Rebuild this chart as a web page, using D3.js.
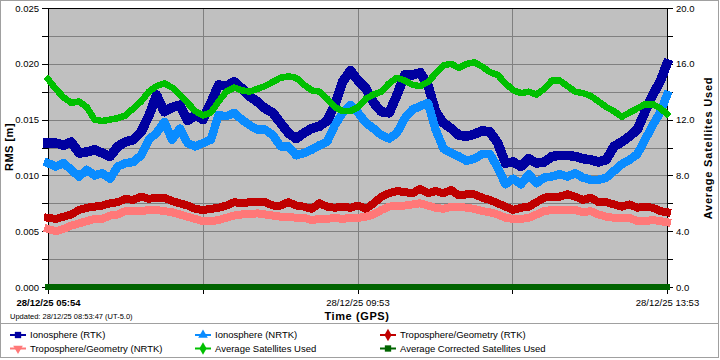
<!DOCTYPE html>
<html><head><meta charset="utf-8">
<script src="https://cdn.jsdelivr.net/npm/d3@7"></script>
<style>
body{margin:0;background:#fff}
svg{display:block}
text{font-family:"Liberation Sans",Arial,sans-serif;fill:#000}
</style>
</head><body>
<svg id="chart" width="720" height="360"></svg>
<script>
// ---- DATA (minutes after 28/12/25 05:54) ----
const times = [0,6,12,18,24,30,36,42,48,54,60,66,72,78,84,90,96,102,108,114,120,126,132,138,144,150,156,162,168,174,180,186,192,198,204,210,216,222,228,234,240,246,252,258,264,270,276,282,288,294,300,306,312,318,324,330,336,342,348,354,360,366,372,378,384,390,396,402,408,414,420,426,432,438,444,450,456,462,468,474,479];
const ionoRTK = [0.0129,0.0129,0.0127,0.0130,0.0120,0.0121,0.0123,0.0120,0.0117,0.0126,0.0130,0.0132,0.0139,0.0153,0.0172,0.0157,0.0161,0.0163,0.0149,0.0154,0.0150,0.0165,0.0181,0.0180,0.0184,0.0178,0.0171,0.0166,0.0160,0.0156,0.0147,0.0138,0.0133,0.0138,0.0142,0.0144,0.0149,0.0163,0.0184,0.0194,0.0185,0.0178,0.0165,0.0157,0.0156,0.0172,0.0190,0.0190,0.0192,0.0181,0.0157,0.0147,0.0142,0.0136,0.0135,0.0137,0.0140,0.0139,0.0129,0.0111,0.0112,0.0108,0.0115,0.0111,0.0112,0.0117,0.0118,0.0118,0.0117,0.0115,0.0114,0.0112,0.0114,0.0126,0.0130,0.0135,0.0141,0.0157,0.0172,0.0185,0.0200];
const ionoNRTK = [0.0111,0.0108,0.0111,0.0105,0.0099,0.0105,0.0100,0.0102,0.0097,0.0108,0.0111,0.0112,0.0118,0.0132,0.0138,0.0148,0.0132,0.0142,0.0129,0.0126,0.0129,0.0132,0.0154,0.0153,0.0156,0.0150,0.0145,0.0141,0.0141,0.0136,0.0126,0.0126,0.0118,0.0120,0.0123,0.0127,0.0130,0.0145,0.0156,0.0163,0.0156,0.0147,0.0142,0.0136,0.0133,0.0138,0.0151,0.0159,0.0162,0.0165,0.0141,0.0124,0.0120,0.0117,0.0113,0.0115,0.0119,0.0119,0.0107,0.0092,0.0097,0.0092,0.0101,0.0093,0.0098,0.0099,0.0101,0.0099,0.0102,0.0098,0.0096,0.0096,0.0098,0.0104,0.0110,0.0114,0.0119,0.0132,0.0145,0.0157,0.0172];
const tropoRTK = [0.0062,0.0061,0.0063,0.0065,0.0069,0.0071,0.0072,0.0073,0.0075,0.0076,0.0079,0.0078,0.0081,0.0079,0.0080,0.0080,0.0077,0.0075,0.0073,0.0070,0.0069,0.0070,0.0071,0.0073,0.0076,0.0075,0.0076,0.0076,0.0076,0.0073,0.0073,0.0076,0.0073,0.0072,0.0070,0.0075,0.0072,0.0071,0.0072,0.0071,0.0073,0.0070,0.0075,0.0081,0.0084,0.0086,0.0085,0.0084,0.0088,0.0084,0.0086,0.0084,0.0087,0.0082,0.0083,0.0083,0.0080,0.0078,0.0075,0.0072,0.0069,0.0071,0.0072,0.0076,0.0080,0.0081,0.0081,0.0083,0.0081,0.0078,0.0080,0.0076,0.0076,0.0074,0.0072,0.0074,0.0071,0.0072,0.0071,0.0068,0.0067];
const tropoNRTK = [0.0052,0.0050,0.0052,0.0055,0.0057,0.0059,0.0061,0.0061,0.0064,0.0065,0.0068,0.0068,0.0068,0.0069,0.0069,0.0068,0.0067,0.0065,0.0063,0.0061,0.0059,0.0059,0.0060,0.0062,0.0064,0.0065,0.0065,0.0066,0.0065,0.0064,0.0063,0.0063,0.0062,0.0062,0.0060,0.0061,0.0061,0.0062,0.0061,0.0062,0.0062,0.0063,0.0065,0.0069,0.0072,0.0073,0.0073,0.0074,0.0075,0.0073,0.0071,0.0070,0.0072,0.0072,0.0071,0.0070,0.0068,0.0067,0.0065,0.0062,0.0061,0.0061,0.0062,0.0065,0.0068,0.0069,0.0069,0.0069,0.0069,0.0067,0.0068,0.0065,0.0063,0.0062,0.0062,0.0062,0.0059,0.0059,0.0060,0.0059,0.0058];
const avgSats = [14.9,14.2,13.6,13.2,13.3,12.9,12.0,11.9,12.0,12.1,12.3,12.8,13.3,14.0,14.4,14.6,14.3,13.8,13.2,12.6,12.3,12.5,13.3,14.0,14.3,14.1,14.0,14.2,14.4,14.7,15.0,15.1,15.0,14.5,14.1,14.0,13.5,12.9,12.6,12.6,12.9,13.5,13.8,14.0,14.6,15.0,14.8,14.5,14.4,14.7,15.3,15.9,16.0,15.7,16.0,16.1,15.8,15.4,15.2,14.6,14.1,13.9,14.0,13.8,14.2,14.8,14.8,14.4,14.0,13.9,13.7,13.3,12.9,12.6,12.2,12.5,12.8,13.1,13.1,12.8,12.4];
const corrTimes = [0,479];
const avgCorrSats = [0.0,0.0];

const xTickValues = [0,119.75,239.5,359.25,479];
const xTickLabels = ["28/12/25 05:54","","28/12/25 09:53","","28/12/25 13:53"];
const yLeftTicks = [0,0.0025,0.005,0.0075,0.01,0.0125,0.015,0.0175,0.02,0.0225,0.025];
const yRightTicks = [0,2,4,6,8,10,12,14,16,18,20];
const seriesNames = ["Ionosphere (RTK)","Ionosphere (NRTK)","Troposphere/Geometry (RTK)","Troposphere/Geometry (NRTK)","Average Satellites Used","Average Corrected Satellites Used"];
const updatedText = "Updated: 28/12/25 08:53:47 (UT-5.0)";

// ---- DRAWING ----
const svg = d3.select("#chart");
const L = 48, R = 667, T = 8, B = 287;
const x = d3.scaleLinear().domain([0,479]).range([L,R]);
const yL = d3.scaleLinear().domain([0,0.025]).range([B,T]);
const yR = d3.scaleLinear().domain([0,20]).range([B,T]);

// outer frame
svg.append("rect").attr("x",0.5).attr("y",0.5).attr("width",718).attr("height",357)
  .attr("fill","#fff").attr("stroke","#a0a0a0");
svg.append("line").attr("x1",0).attr("x2",719).attr("y1",323.5).attr("y2",323.5).attr("stroke","#a0a0a0");

// plot bg
svg.append("rect").attr("x",L).attr("y",T).attr("width",R-L).attr("height",B-T).attr("fill","#c0c0c0");

// grid
const grid = svg.append("g").attr("stroke","#808080").attr("stroke-width",1).attr("shape-rendering","crispEdges");
yLeftTicks.slice(1,-1).forEach(v=>{
  grid.append("line").attr("x1",L).attr("x2",R).attr("y1",Math.round(yL(v))+0.5).attr("y2",Math.round(yL(v))+0.5);
});
xTickValues.slice(1,-1).forEach(v=>{
  grid.append("line").attr("y1",T).attr("y2",B).attr("x1",Math.round(x(v))+0.5).attr("x2",Math.round(x(v))+0.5);
});

// axes
const fmtL = d3.format(".3f"), fmtR = d3.format(".1f");
const axL = svg.append("g").attr("transform",`translate(${L},0)`)
  .call(d3.axisLeft(yL).tickValues(yLeftTicks).tickSize(6).tickPadding(3)
    .tickFormat(d => (Math.round(d*10000) % 50 === 0) ? fmtL(d) : ""));
const axR = svg.append("g").attr("transform",`translate(${R},0)`)
  .call(d3.axisRight(yR).tickValues(yRightTicks).tickSize(6).tickPadding(3)
    .tickFormat(d => (d % 4 === 0) ? fmtR(d) : ""));
const axB = svg.append("g").attr("transform",`translate(0,${B})`)
  .call(d3.axisBottom(x).tickValues(xTickValues).tickSize(7).tickPadding(3)
    .tickFormat((d,i) => xTickLabels[i]));
[axL,axR,axB].forEach(a=>{
  a.attr("font-family",null).attr("font-size",null);
  a.selectAll("text").style("font-size","9.5px");
  a.selectAll("line,path").attr("stroke","#000").attr("shape-rendering","crispEdges");
  a.select(".domain").remove();
});
axB.selectAll("text").attr("dy","0.9em");
axB.selectAll("text").filter((d,i)=>i===0).style("font-weight","bold");

// plot frame lines
const frame = svg.append("g").attr("stroke","#000").attr("shape-rendering","crispEdges");
frame.append("line").attr("x1",L).attr("x2",R+1).attr("y1",T+0.5).attr("y2",T+0.5);
frame.append("line").attr("x1",L+0.5).attr("x2",L+0.5).attr("y1",T).attr("y2",B+1);
frame.append("line").attr("x1",R+0.5).attr("x2",R+0.5).attr("y1",T).attr("y2",B+1);
frame.append("line").attr("x1",L).attr("x2",R+1).attr("y1",B+0.5).attr("y2",B+0.5);

// series
const colors = ["#0000a0","#0a8cff","#c00000","#ff7878","#00c000","#006400"];
const widths = [9.5,8.5,8,8,6.5,6];
const seriesData = [
  {t:times, v:ionoRTK, s:yL},
  {t:times, v:ionoNRTK, s:yL},
  {t:times, v:tropoRTK, s:yL},
  {t:times, v:tropoNRTK, s:yL},
  {t:times, v:avgSats, s:yR},
  {t:corrTimes, v:avgCorrSats, s:yR}
];
seriesData.forEach((sd,i)=>{
  const pts = sd.t.map((t,j)=>[x(t), sd.s(sd.v[j])]);
  svg.append("path").attr("d", d3.line()(pts))
    .attr("fill","none").attr("stroke",colors[i]).attr("stroke-width",widths[i])
    .attr("stroke-linejoin","round").attr("stroke-linecap","square")
    .attr("shape-rendering","crispEdges");
});

// axis titles
svg.append("text").attr("transform","translate(13,147) rotate(-90)").attr("text-anchor","middle")
  .style("font-size","11px").style("font-weight","bold").style("letter-spacing","0.5px").text("RMS [m]");
svg.append("text").attr("transform","translate(712,148) rotate(-90)").attr("text-anchor","middle")
  .style("font-size","11px").style("font-weight","bold").style("letter-spacing","0.8px").text("Average Satellites Used");
svg.append("text").attr("x",357).attr("y",320).attr("text-anchor","middle")
  .style("font-size","11px").style("font-weight","bold").style("letter-spacing","0.6px").text("Time (GPS)");
svg.append("text").attr("x",10).attr("y",319).style("font-size","7.5px").text(updatedText);

// legend
const symbols = [d3.symbolSquare,d3.symbolTriangle,d3.symbolDiamond,d3.symbolTriangle,d3.symbolDiamond,d3.symbolSquare];
const rot = [0,0,0,180,0,0];
const colX = [10,195,380], rowY = [335,348.5];
seriesNames.forEach((name,i)=>{
  const cx = colX[i%3], cy = rowY[Math.floor(i/3)];
  const g = svg.append("g").attr("transform",`translate(${cx},${cy})`);
  g.append("line").attr("x1",0).attr("x2",16).attr("y1",0).attr("y2",0).attr("stroke",colors[i]).attr("stroke-width",2);
  g.append("path").attr("d",d3.symbol(symbols[i], i===2||i===4?45:40)()).attr("transform",`translate(8,0) rotate(${rot[i]})`).attr("fill",colors[i]);
  g.append("text").attr("x",20).attr("y",0).attr("dy","0.35em").style("font-size","9.5px").text(name);
});
</script>
</body></html>
